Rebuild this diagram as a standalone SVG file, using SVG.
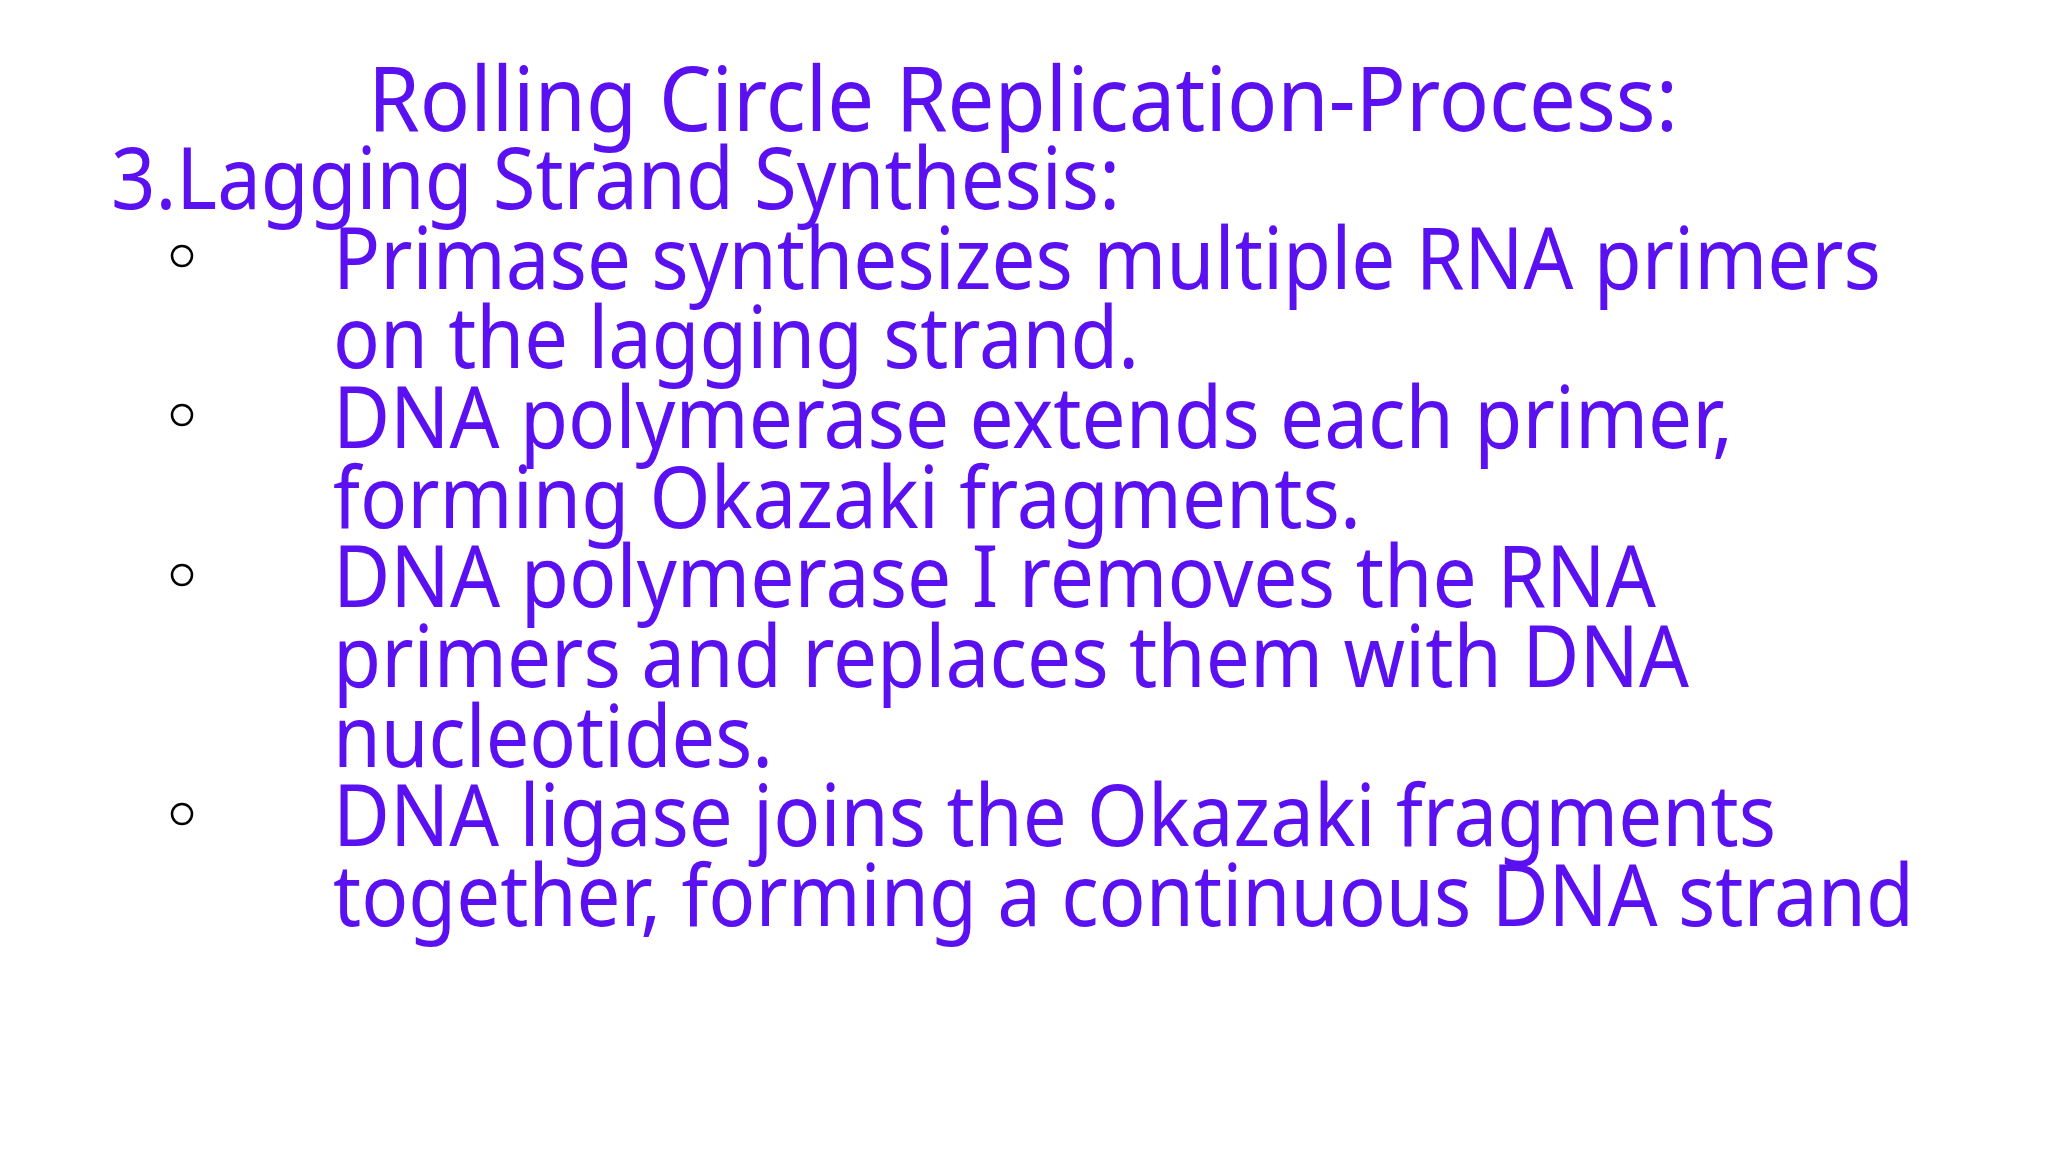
<svg xmlns="http://www.w3.org/2000/svg" width="2048" height="1152" viewBox="0 0 2048 1152">
<style>
text{font-family:"Noto Sans","Open Sans",sans-serif;fill:#5A10F0}
.b{font-size:86px}
.bul{fill:none;stroke:#000;stroke-width:2.5}
</style>
<rect width="2048" height="1152" fill="#fff"/>
<g id="title"><text x="368" y="131" font-size="90" textLength="1310" lengthAdjust="spacingAndGlyphs">Rolling Circle Replication-Process:</text></g>
<g id="heading"><text x="111" y="209" font-size="86" textLength="1009" lengthAdjust="spacingAndGlyphs">3.Lagging Strand Synthesis:</text></g>
<g id="bullets">
<circle class="bul" cx="182" cy="256" r="10"/>
<circle class="bul" cx="182" cy="415" r="10"/>
<circle class="bul" cx="182" cy="575" r="10"/>
<circle class="bul" cx="182" cy="814" r="10"/>
</g>
<g id="items">
<text class="b" x="333" y="289" textLength="1548" lengthAdjust="spacingAndGlyphs">Primase synthesizes multiple RNA primers</text>
<text class="b" x="333" y="368" textLength="806" lengthAdjust="spacingAndGlyphs">on the lagging strand.</text>
<text class="b" x="333" y="448" textLength="1400" lengthAdjust="spacingAndGlyphs">DNA polymerase extends each primer,</text>
<text class="b" x="333" y="528" textLength="1028" lengthAdjust="spacingAndGlyphs">forming Okazaki fragments.</text>
<text class="b" x="333" y="607" textLength="1323" lengthAdjust="spacingAndGlyphs">DNA polymerase I removes the RNA</text>
<text class="b" x="333" y="687" textLength="1356" lengthAdjust="spacingAndGlyphs">primers and replaces them with DNA</text>
<text class="b" x="333" y="767" textLength="440" lengthAdjust="spacingAndGlyphs">nucleotides.</text>
<text class="b" x="333" y="846" textLength="1443" lengthAdjust="spacingAndGlyphs">DNA ligase joins the Okazaki fragments</text>
<text class="b" x="333" y="926" textLength="1581" lengthAdjust="spacingAndGlyphs">together, forming a continuous DNA strand</text>
</g>
</svg>
